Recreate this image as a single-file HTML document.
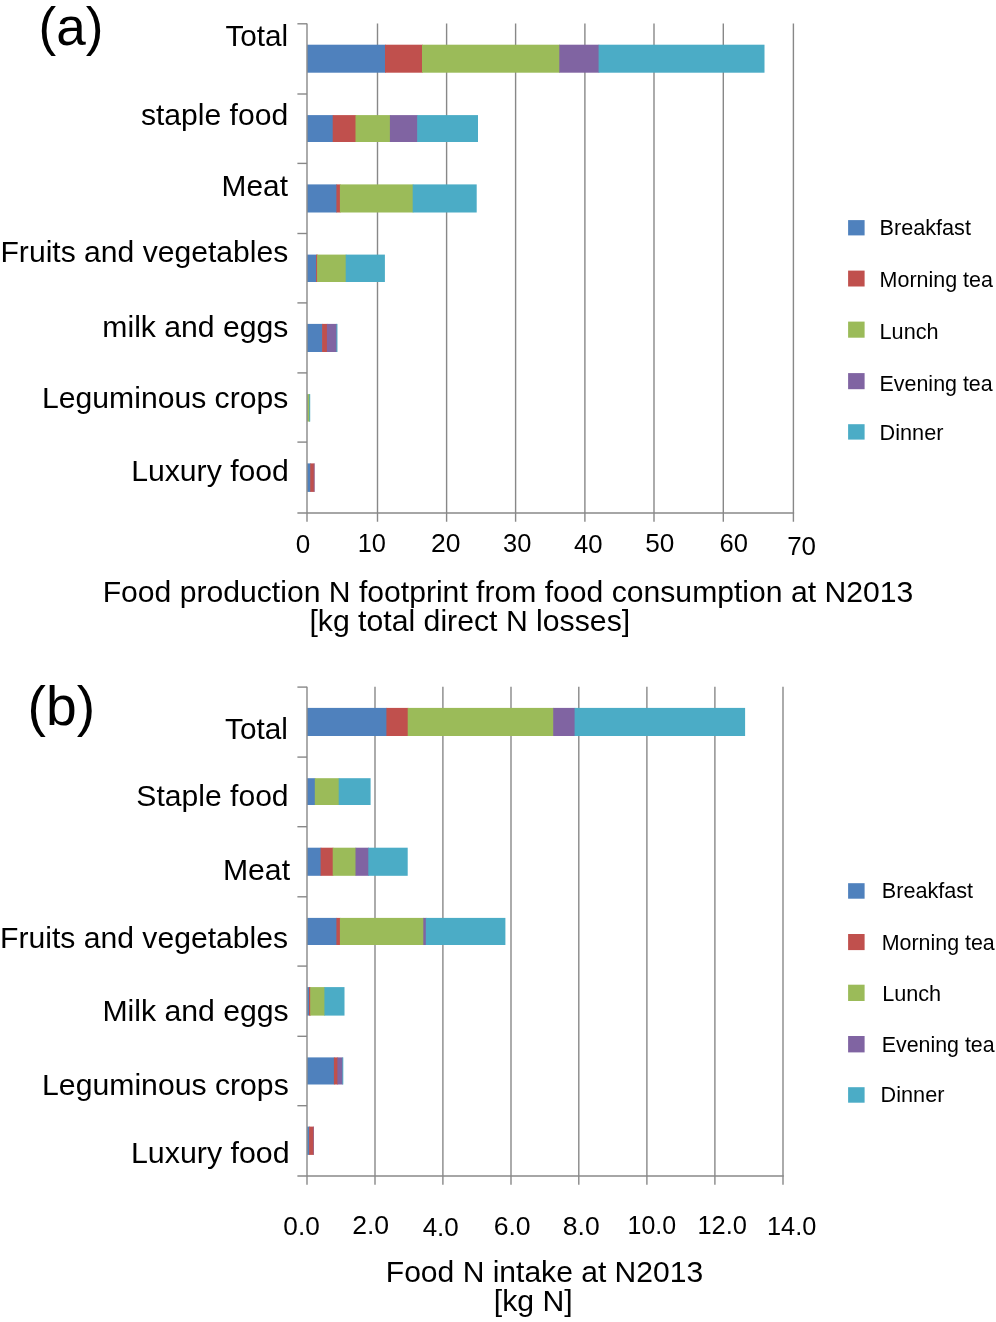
<!DOCTYPE html>
<html><head><meta charset="utf-8"><title>Figure</title>
<style>
html,body{margin:0;padding:0;background:#fff;}
svg{display:block;}
text{font-family:"Liberation Sans",sans-serif;fill:#000;}
</style></head><body>
<svg width="996" height="1322" viewBox="0 0 996 1322">
<rect width="996" height="1322" fill="#ffffff"/>
<line x1="377.5" y1="23.6" x2="377.5" y2="521.7" stroke="#888888" stroke-width="1.4"/>
<line x1="446.6" y1="23.6" x2="446.6" y2="521.7" stroke="#888888" stroke-width="1.4"/>
<line x1="515.6" y1="23.6" x2="515.6" y2="521.7" stroke="#888888" stroke-width="1.4"/>
<line x1="584.9" y1="23.6" x2="584.9" y2="521.7" stroke="#888888" stroke-width="1.4"/>
<line x1="654.0" y1="23.6" x2="654.0" y2="521.7" stroke="#888888" stroke-width="1.4"/>
<line x1="723.3" y1="23.6" x2="723.3" y2="521.7" stroke="#888888" stroke-width="1.4"/>
<line x1="793.4" y1="23.6" x2="793.4" y2="521.7" stroke="#888888" stroke-width="1.4"/>
<rect x="307.1" y="44.7" width="78.6" height="28.0" fill="#4f81bd"/>
<rect x="385.0" y="44.7" width="37.7" height="28.0" fill="#c0504d"/>
<rect x="422.0" y="44.7" width="138.0" height="28.0" fill="#9bbb59"/>
<rect x="559.3" y="44.7" width="40.0" height="28.0" fill="#8064a2"/>
<rect x="598.6" y="44.7" width="165.9" height="28.0" fill="#4bacc6"/>
<rect x="307.1" y="115.1" width="26.3" height="26.9" fill="#4f81bd"/>
<rect x="332.7" y="115.1" width="23.5" height="26.9" fill="#c0504d"/>
<rect x="355.5" y="115.1" width="35.1" height="26.9" fill="#9bbb59"/>
<rect x="389.9" y="115.1" width="28.0" height="26.9" fill="#8064a2"/>
<rect x="417.2" y="115.1" width="60.8" height="26.9" fill="#4bacc6"/>
<rect x="307.1" y="184.4" width="30.0" height="28.1" fill="#4f81bd"/>
<rect x="336.4" y="184.4" width="4.2" height="28.1" fill="#c0504d"/>
<rect x="339.9" y="184.4" width="73.5" height="28.1" fill="#9bbb59"/>
<rect x="412.7" y="184.4" width="64.0" height="28.1" fill="#4bacc6"/>
<rect x="307.1" y="254.6" width="9.7" height="27.4" fill="#4f81bd"/>
<rect x="316.1" y="254.6" width="1.7" height="27.4" fill="#c0504d"/>
<rect x="317.1" y="254.6" width="29.3" height="27.4" fill="#9bbb59"/>
<rect x="345.7" y="254.6" width="39.2" height="27.4" fill="#4bacc6"/>
<rect x="307.1" y="323.9" width="15.7" height="28.1" fill="#4f81bd"/>
<rect x="322.1" y="323.9" width="5.5" height="28.1" fill="#c0504d"/>
<rect x="326.9" y="323.9" width="10.2" height="28.1" fill="#8064a2"/>
<rect x="336.4" y="323.9" width="1.0" height="28.1" fill="#4bacc6"/>
<rect x="307.1" y="394.1" width="2.9" height="27.5" fill="#9bbb59"/>
<rect x="309.3" y="394.1" width="0.9" height="27.5" fill="#4bacc6"/>
<rect x="307.1" y="463.4" width="3.8" height="28.5" fill="#4f81bd"/>
<rect x="310.2" y="463.4" width="4.3" height="28.5" fill="#c0504d"/>
<rect x="313.8" y="463.4" width="0.7" height="28.5" fill="#8064a2"/>
<line x1="307.0" y1="23.6" x2="307.0" y2="521.7" stroke="#888888" stroke-width="1.4"/>
<line x1="297.4" y1="513.0" x2="794.1" y2="513.0" stroke="#888888" stroke-width="1.4"/>
<line x1="297.4" y1="23.8" x2="307.0" y2="23.8" stroke="#888888" stroke-width="1.4"/>
<line x1="297.4" y1="94.0" x2="307.0" y2="94.0" stroke="#888888" stroke-width="1.4"/>
<line x1="297.4" y1="163.4" x2="307.0" y2="163.4" stroke="#888888" stroke-width="1.4"/>
<line x1="297.4" y1="233.5" x2="307.0" y2="233.5" stroke="#888888" stroke-width="1.4"/>
<line x1="297.4" y1="302.9" x2="307.0" y2="302.9" stroke="#888888" stroke-width="1.4"/>
<line x1="297.4" y1="372.9" x2="307.0" y2="372.9" stroke="#888888" stroke-width="1.4"/>
<line x1="297.4" y1="442.1" x2="307.0" y2="442.1" stroke="#888888" stroke-width="1.4"/>
<line x1="375.0" y1="686.8" x2="375.0" y2="1184.7" stroke="#888888" stroke-width="1.4"/>
<line x1="442.9" y1="686.8" x2="442.9" y2="1184.7" stroke="#888888" stroke-width="1.4"/>
<line x1="511.0" y1="686.8" x2="511.0" y2="1184.7" stroke="#888888" stroke-width="1.4"/>
<line x1="578.8" y1="686.8" x2="578.8" y2="1184.7" stroke="#888888" stroke-width="1.4"/>
<line x1="646.9" y1="686.8" x2="646.9" y2="1184.7" stroke="#888888" stroke-width="1.4"/>
<line x1="714.9" y1="686.8" x2="714.9" y2="1184.7" stroke="#888888" stroke-width="1.4"/>
<line x1="783.0" y1="686.8" x2="783.0" y2="1184.7" stroke="#888888" stroke-width="1.4"/>
<rect x="307.1" y="707.9" width="80.0" height="28.1" fill="#4f81bd"/>
<rect x="386.4" y="707.9" width="22.0" height="28.1" fill="#c0504d"/>
<rect x="407.7" y="707.9" width="146.2" height="28.1" fill="#9bbb59"/>
<rect x="553.2" y="707.9" width="22.1" height="28.1" fill="#8064a2"/>
<rect x="574.6" y="707.9" width="170.5" height="28.1" fill="#4bacc6"/>
<rect x="307.1" y="778.2" width="8.4" height="26.8" fill="#4f81bd"/>
<rect x="314.8" y="778.2" width="24.6" height="26.8" fill="#9bbb59"/>
<rect x="338.7" y="778.2" width="31.9" height="26.8" fill="#4bacc6"/>
<rect x="307.1" y="847.7" width="14.2" height="28.1" fill="#4f81bd"/>
<rect x="320.6" y="847.7" width="12.8" height="28.1" fill="#c0504d"/>
<rect x="332.7" y="847.7" width="23.5" height="28.1" fill="#9bbb59"/>
<rect x="355.5" y="847.7" width="13.5" height="28.1" fill="#8064a2"/>
<rect x="368.3" y="847.7" width="39.4" height="28.1" fill="#4bacc6"/>
<rect x="307.1" y="917.9" width="30.0" height="27.1" fill="#4f81bd"/>
<rect x="336.4" y="917.9" width="4.2" height="27.1" fill="#c0504d"/>
<rect x="339.9" y="917.9" width="84.1" height="27.1" fill="#9bbb59"/>
<rect x="423.3" y="917.9" width="3.2" height="27.1" fill="#8064a2"/>
<rect x="425.8" y="917.9" width="79.6" height="27.1" fill="#4bacc6"/>
<rect x="307.1" y="987.1" width="2.6" height="28.5" fill="#4f81bd"/>
<rect x="309.0" y="987.1" width="1.9" height="28.5" fill="#c0504d"/>
<rect x="310.2" y="987.1" width="14.9" height="28.5" fill="#9bbb59"/>
<rect x="324.4" y="987.1" width="20.1" height="28.5" fill="#4bacc6"/>
<rect x="307.1" y="1057.4" width="27.5" height="27.1" fill="#4f81bd"/>
<rect x="333.9" y="1057.4" width="4.2" height="27.1" fill="#c0504d"/>
<rect x="337.4" y="1057.4" width="5.5" height="27.1" fill="#8064a2"/>
<rect x="342.4" y="1057.4" width="0.9" height="27.1" fill="#4bacc6"/>
<rect x="307.1" y="1126.6" width="2.7" height="28.3" fill="#4f81bd"/>
<rect x="309.1" y="1126.6" width="4.8" height="28.3" fill="#c0504d"/>
<rect x="313.4" y="1126.6" width="0.5" height="28.3" fill="#8064a2"/>
<line x1="307.0" y1="686.8" x2="307.0" y2="1184.7" stroke="#888888" stroke-width="1.4"/>
<line x1="297.4" y1="1176.0" x2="783.7" y2="1176.0" stroke="#888888" stroke-width="1.4"/>
<line x1="297.4" y1="687.1" x2="307.0" y2="687.1" stroke="#888888" stroke-width="1.4"/>
<line x1="297.4" y1="757.1" x2="307.0" y2="757.1" stroke="#888888" stroke-width="1.4"/>
<line x1="297.4" y1="826.7" x2="307.0" y2="826.7" stroke="#888888" stroke-width="1.4"/>
<line x1="297.4" y1="896.8" x2="307.0" y2="896.8" stroke="#888888" stroke-width="1.4"/>
<line x1="297.4" y1="966.1" x2="307.0" y2="966.1" stroke="#888888" stroke-width="1.4"/>
<line x1="297.4" y1="1036.3" x2="307.0" y2="1036.3" stroke="#888888" stroke-width="1.4"/>
<line x1="297.4" y1="1105.7" x2="307.0" y2="1105.7" stroke="#888888" stroke-width="1.4"/>
<rect x="848.1" y="220.1" width="16.5" height="15.3" fill="#4f81bd"/>
<rect x="848.1" y="270.6" width="16.5" height="15.9" fill="#c0504d"/>
<rect x="848.1" y="321.6" width="16.5" height="16.1" fill="#9bbb59"/>
<rect x="848.1" y="373.1" width="16.5" height="16.1" fill="#8064a2"/>
<rect x="848.1" y="424.2" width="16.5" height="15.4" fill="#4bacc6"/>
<rect x="848.1" y="883.2" width="16.5" height="15.5" fill="#4f81bd"/>
<rect x="848.1" y="934.0" width="16.5" height="16.1" fill="#c0504d"/>
<rect x="848.1" y="984.7" width="16.5" height="16.3" fill="#9bbb59"/>
<rect x="848.1" y="1036.0" width="16.5" height="16.4" fill="#8064a2"/>
<rect x="848.1" y="1087.2" width="16.5" height="15.5" fill="#4bacc6"/>
<text x="38.51" y="44.8" font-size="53.09">(a)</text>
<text x="225.41" y="46.2" font-size="29.73">Total</text>
<text x="140.90" y="124.6" font-size="30.11">staple food</text>
<text x="221.61" y="196.0" font-size="29.84">Meat</text>
<text x="0.49" y="262.1" font-size="30.10">Fruits and vegetables</text>
<text x="102.34" y="336.6" font-size="30.15">milk and eggs</text>
<text x="42.09" y="408.4" font-size="30.13">Leguminous crops</text>
<text x="131.19" y="480.8" font-size="30.18">Luxury food</text>
<text x="295.86" y="553.0" font-size="26.04">0</text>
<text x="357.70" y="551.8" font-size="25.40">10</text>
<text x="430.98" y="552.0" font-size="26.44">20</text>
<text x="503.08" y="551.6" font-size="25.41">30</text>
<text x="573.89" y="553.0" font-size="25.69">40</text>
<text x="645.15" y="551.6" font-size="26.18">50</text>
<text x="719.62" y="551.6" font-size="25.56">60</text>
<text x="787.20" y="554.8" font-size="25.95">70</text>
<text x="102.69" y="602.3" font-size="30.14">Food production N footprint from food consumption at N2013</text>
<text x="309.38" y="631.2" font-size="30.23">[kg total direct N losses]</text>
<text x="879.57" y="235.0" font-size="21.64">Breakfast</text>
<text x="879.58" y="286.5" font-size="21.46">Morning tea</text>
<text x="879.57" y="338.7" font-size="21.67">Lunch</text>
<text x="879.59" y="391.0" font-size="21.42">Evening tea</text>
<text x="879.57" y="440.4" font-size="21.68">Dinner</text>
<text x="27.58" y="724.8" font-size="55.27">(b)</text>
<text x="225.00" y="738.9" font-size="29.78">Total</text>
<text x="136.35" y="805.5" font-size="30.10">Staple food</text>
<text x="222.88" y="879.7" font-size="30.21">Meat</text>
<text x="-0.01" y="947.5" font-size="30.13">Fruits and vegetables</text>
<text x="102.38" y="1021.0" font-size="30.21">Milk and eggs</text>
<text x="42.08" y="1094.9" font-size="30.19">Leguminous crops</text>
<text x="130.97" y="1162.7" font-size="30.37">Luxury food</text>
<text x="283.35" y="1234.8" font-size="26.16">0.0</text>
<text x="352.17" y="1234.4" font-size="26.59">2.0</text>
<text x="422.68" y="1235.6" font-size="25.99">4.0</text>
<text x="493.67" y="1234.8" font-size="26.59">6.0</text>
<text x="562.81" y="1234.9" font-size="26.49">8.0</text>
<text transform="translate(627.53,1233.7) scale(0.9600,1)" font-size="26.00">10.0</text>
<text transform="translate(697.39,1233.7) scale(0.9788,1)" font-size="26.00">12.0</text>
<text transform="translate(767.00,1234.7) scale(0.9746,1)" font-size="26.00">14.0</text>
<text x="385.80" y="1281.5" font-size="30.06">Food N intake at N2013</text>
<text x="493.79" y="1310.6" font-size="30.20">[kg N]</text>
<text x="881.77" y="898.3" font-size="21.64">Breakfast</text>
<text x="881.79" y="950.0" font-size="21.40">Morning tea</text>
<text x="882.17" y="1001.3" font-size="21.67">Lunch</text>
<text x="881.79" y="1051.8" font-size="21.37">Evening tea</text>
<text x="880.57" y="1102.3" font-size="21.68">Dinner</text>
</svg>
</body></html>
